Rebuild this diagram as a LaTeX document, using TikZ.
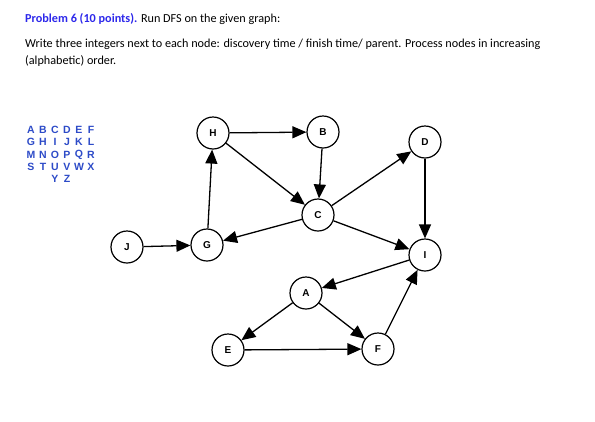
\documentclass[tikz,border=0pt]{standalone}
\usepackage{fontspec}
\setmainfont{Carlito}
\newfontfamily\lettersfont{Liberation Sans}
\usetikzlibrary{arrows.meta}
\definecolor{titleblue}{RGB}{45,40,235}
\definecolor{gridblue}{RGB}{45,75,200}
\begin{document}
\begin{tikzpicture}[x=1pt,y=-1pt,
  vtx/.style={circle,draw,line width=1.2pt,minimum size=32pt,inner sep=0pt,font=\lettersfont\bfseries\fontsize{10}{11}\selectfont},
  edge/.style={line width=1.3pt,-{Triangle[length=14pt,width=12pt]}},
  txt/.style={anchor=base west,inner sep=0pt,font=\fontsize{12.2}{14}\selectfont},
  glyph/.style={inner sep=0pt,text=gridblue,font=\lettersfont\bfseries\fontsize{10.5}{11}\selectfont}]
\useasboundingbox[fill=white] (0,0) rectangle (595,421);
\node[txt] (t1) at (25,22) {\textcolor{titleblue}{\bfseries Problem 6 (10 points).} Run DFS on the given graph:};
\node[txt] (t2) at (25,47) {Write three integers next to each node: discovery time / finish time/ parent. Process nodes in increasing};
\node[txt] (t3) at (25,64) {(alphabetic) order.};
% letter grid
\foreach \ch [count=\i from 0] in {A,B,C,D,E,F,G,H,I,J,K,L,M,N,O,P,Q,R,S,T,U,V,W,X}{
  \pgfmathtruncatemacro{\col}{mod(\i,6)}
  \pgfmathtruncatemacro{\row}{div(\i,6)}
  \node[glyph] (g\ch) at (31+12*\col,130+12.2*\row) {\ch};
}
\node[glyph] (gY) at (55,178.8) {Y};
\node[glyph] (gZ) at (67,178.8) {Z};
% graph nodes
\node[vtx] (H) at (213,133) {H};
\node[vtx] (B) at (323,132) {B};
\node[vtx] (D) at (425,142) {D};
\node[vtx] (C) at (318,215) {C};
\node[vtx] (G) at (207,245) {G};
\node[vtx] (J) at (127,247) {J};
\node[vtx] (I) at (425,255) {I};
\node[vtx] (A) at (306,293) {A};
\node[vtx] (E) at (228,350) {E};
\node[vtx] (F) at (378,349) {F};
% edges
\draw[edge] (J) -- (G);
\draw[edge] (G) -- (H);
\draw[edge] (H) -- (B);
\draw[edge] (H) -- (C);
\draw[edge] (B) -- (C);
\draw[edge] (C) -- (D);
\draw[edge] (D) -- (I);
\draw[edge] (C) -- (G);
\draw[edge] (C) -- (I);
\draw[edge] (I) -- (A);
\draw[edge] (A) -- (E);
\draw[edge] (A) -- (F);
\draw[edge] (E) -- (F);
\draw[edge] (F) -- (I);
\end{tikzpicture}
\end{document}
